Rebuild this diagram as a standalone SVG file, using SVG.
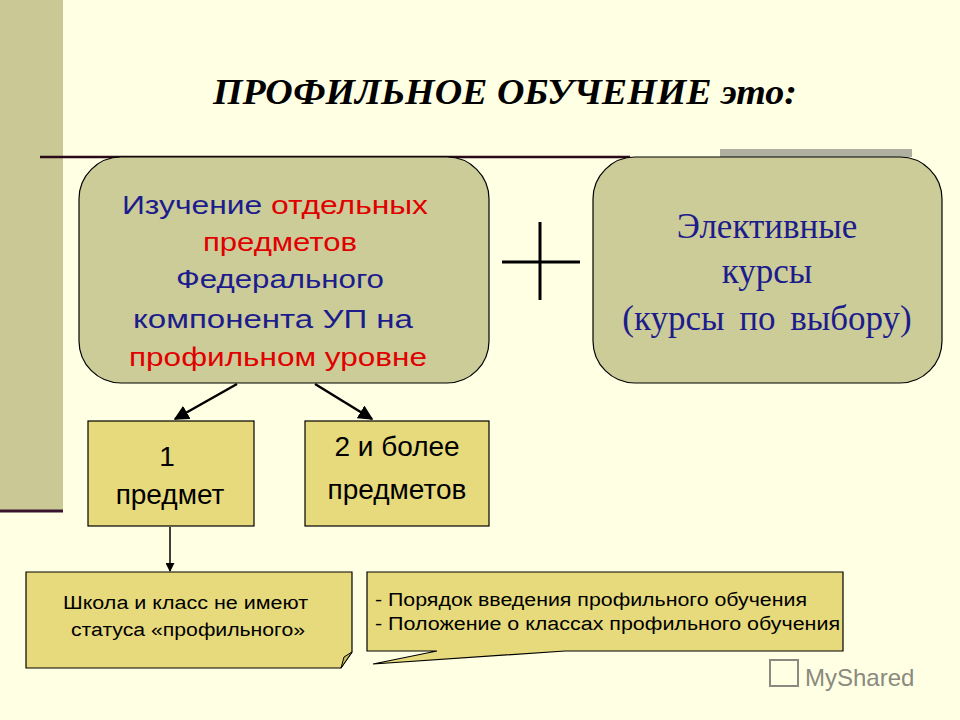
<svg xmlns="http://www.w3.org/2000/svg" width="960" height="720" viewBox="0 0 960 720">
<style>
.big{fill:#cccc99;stroke:#000;stroke-width:1.2}
.sm{fill:#e6da7c;stroke:#000;stroke-width:1.2}
.s{font-family:"Liberation Sans",Arial,sans-serif}
.r{font-family:"Liberation Serif","Times New Roman",serif}
.ln{stroke:#000;stroke-width:2.5;fill:none}
</style>
<defs><marker id="ah" viewBox="0 0 10 10" refX="9" refY="5" markerWidth="6" markerHeight="6" orient="auto"><path d="M0,0L10,5L0,10z" fill="#000"/></marker></defs>
<rect width="960" height="720" fill="#ffffe3"/>
<rect x="0" y="0" width="63" height="510" fill="#cac996"/>
<line x1="0" y1="511" x2="63" y2="511" stroke="#3a1530" stroke-width="3"/>
<rect x="720" y="149" width="192" height="8" fill="#b0b0a0"/>
<line x1="40" y1="157" x2="630" y2="157" stroke="#2a0a1a" stroke-width="2.5"/>
<text x="213" y="104" class="r" font-size="36" font-weight="bold" font-style="italic" textLength="584" lengthAdjust="spacingAndGlyphs">ПРОФИЛЬНОЕ  ОБУЧЕНИЕ это:</text>
<g id="n1"><rect class="big" x="79" y="157" width="410" height="226" rx="42"/>
<text class="s" font-size="26" lengthAdjust="spacingAndGlyphs"><tspan x="122" y="214" fill="#1c1c8c" textLength="306" lengthAdjust="spacingAndGlyphs">Изучение <tspan fill="#e00000">отдельных</tspan></tspan><tspan x="203" y="251" fill="#e00000" textLength="154" lengthAdjust="spacingAndGlyphs">предметов</tspan><tspan x="176" y="288" fill="#1c1c8c" textLength="208" lengthAdjust="spacingAndGlyphs">Федерального</tspan><tspan x="133" y="328" fill="#1c1c8c" textLength="280" lengthAdjust="spacingAndGlyphs">компонента УП  на</tspan><tspan x="129" y="366" fill="#e00000" textLength="298" lengthAdjust="spacingAndGlyphs">профильном уровне</tspan></text></g>
<g id="plus"><line x1="540" y1="222" x2="540" y2="300" stroke="#000" stroke-width="3"/><line x1="502" y1="262" x2="580" y2="262" stroke="#000" stroke-width="3"/></g>
<g id="n2"><rect class="big" x="593" y="157" width="349" height="226" rx="42"/>
<text class="r" font-size="35" text-anchor="middle" fill="#1c1c8c"><tspan x="767" y="238">Элективные</tspan><tspan x="767" y="283">курсы</tspan><tspan x="767" y="330" word-spacing="6">(курсы по выбору)</tspan></text></g>
<g id="n3"><rect class="sm" x="88" y="421" width="166" height="105"/>
<text class="s" font-size="28" text-anchor="middle"><tspan x="167" y="466">1</tspan><tspan x="170" y="504">предмет</tspan></text></g>
<g id="n4"><rect class="sm" x="305" y="421" width="184" height="105"/>
<text class="s" font-size="28" text-anchor="middle"><tspan x="397" y="456">2 и более</tspan><tspan x="397" y="499">предметов</tspan></text></g>
<g id="n5"><path class="sm" d="M26,572H352V652L341,668H26Z"/><path d="M352,652L341,668L344,657Z" fill="#c8bd60" stroke="#000" stroke-width="1"/>
<text class="s" font-size="18"><tspan x="63" y="609" textLength="245" lengthAdjust="spacingAndGlyphs">Школа и класс не имеют</tspan><tspan x="71" y="636" textLength="234" lengthAdjust="spacingAndGlyphs">статуса «профильного»</tspan></text></g>
<g id="n6"><path class="sm" d="M367,572H843V651H565L373,664L437,651H367Z"/>
<text class="s" font-size="18"><tspan x="375" y="606" textLength="432" lengthAdjust="spacingAndGlyphs">- Порядок введения профильного обучения</tspan><tspan x="375" y="630" textLength="465" lengthAdjust="spacingAndGlyphs">- Положение о классах профильного обучения</tspan></text></g>
<g id="connectors">
<line class="ln" x1="237" y1="384" x2="175" y2="419" marker-end="url(#ah)"/>
<line class="ln" x1="315" y1="384" x2="372" y2="419" marker-end="url(#ah)"/>
<line x1="170" y1="527" x2="170" y2="571" stroke="#000" stroke-width="1.5" marker-end="url(#ah)"/>
</g>
<text x="805" y="686" class="s" font-size="24" fill="#8a8a80">MyShared</text>
<rect x="770" y="660" width="28" height="26" fill="none" stroke="#8a8a80" stroke-width="2"/>
</svg>
